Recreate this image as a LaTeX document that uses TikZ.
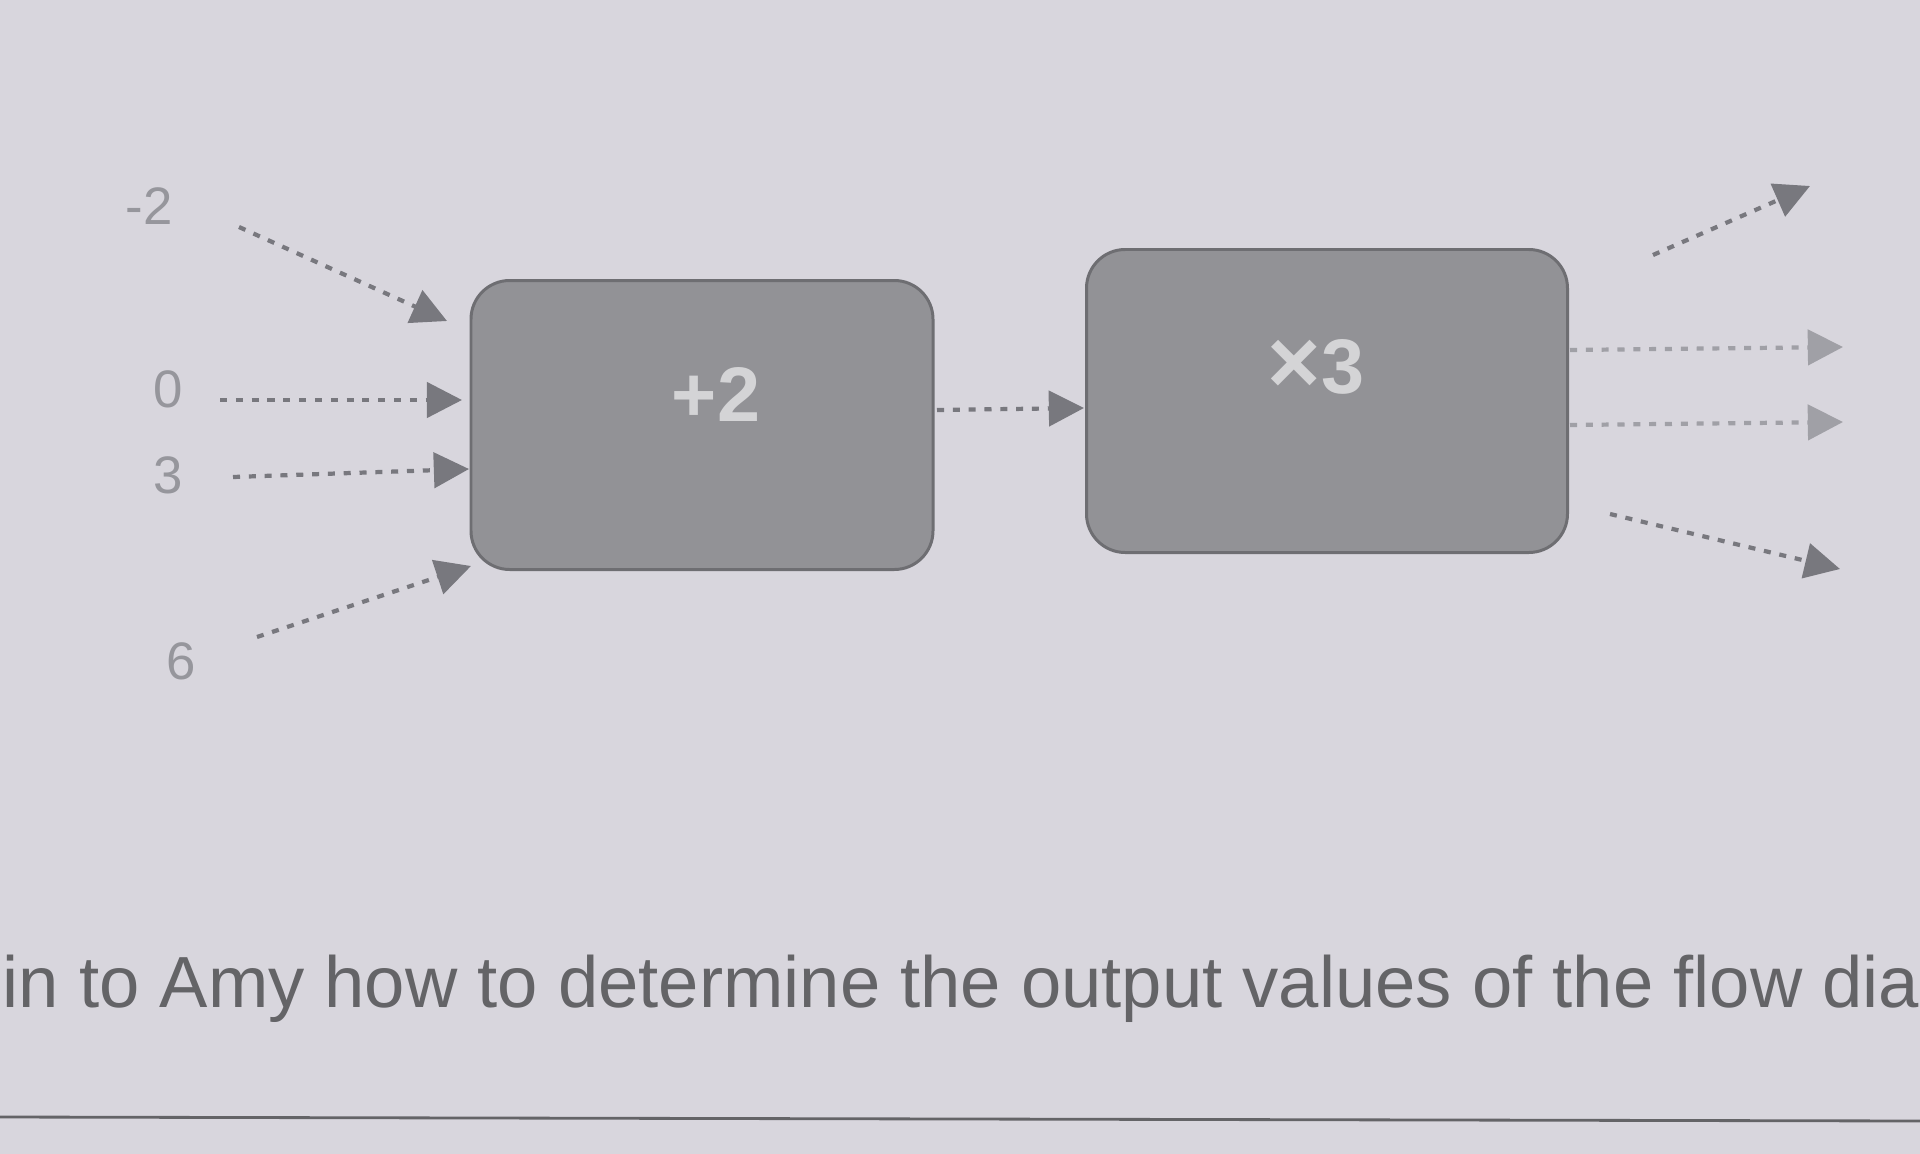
\documentclass[tikz,border=0pt]{standalone}
\usepackage{fontspec}
\setmainfont{Liberation Sans}
\usetikzlibrary{arrows.meta}
\definecolor{paper}{RGB}{216,214,221}
\definecolor{boxfill}{RGB}{146,146,150}
\definecolor{boxline}{RGB}{110,110,114}
\definecolor{boxtext}{RGB}{212,212,214}
\definecolor{labelgray}{RGB}{150,150,156}
\definecolor{arrowgray}{RGB}{120,120,126}
\definecolor{faintgray}{RGB}{160,160,166}
\definecolor{inkgray}{RGB}{100,100,103}
\tikzset{
  opbox/.style={draw=boxline, line width=0.85pt, fill=boxfill, rounded corners=11pt},
  optext/.style={text=boxtext, font=\fontsize{22}{26}\selectfont\bfseries},
  inlabel/.style={text=labelgray, font=\fontsize{15}{18}\selectfont, inner sep=0pt},
  flow/.style={draw=arrowgray, line width=1.2pt, dash pattern=on 2pt off 2.5pt,
    -{Triangle[length=10pt, width=10pt]}},
  faintflow/.style={flow, draw=faintgray}
}
\begin{document}
\begin{tikzpicture}[x=0.01cm, y=-0.01cm]
\fill[paper] (0,0) rectangle (1920,1154);
\useasboundingbox (0,0) rectangle (1920,1154);

% operation boxes
\node[opbox, minimum width=462*0.01cm, minimum height=289*0.01cm] (add) at (702,425) {};
\node[optext] (addt) at (716,394) {+2};
\node[opbox, minimum width=481*0.01cm, minimum height=303*0.01cm] (mul) at (1327,401) {};
\node[optext] (mult) at (1316,367) {\fontsize{26}{26}\selectfont×\fontsize{22}{26}\selectfont3};

% input labels
\node[inlabel] (im2) at (149,206) {-2};
\node[inlabel] (i0) at (168,389) {0};
\node[inlabel] (i3) at (168,475) {3};
\node[inlabel] (i6) at (181,661) {6};

% connector end points
\coordinate (s1) at (239,227);
\coordinate (t1) at (447,321);
\coordinate (s2) at (220,400);
\coordinate (t2) at (462,400);
\coordinate (s3) at (233,477);
\coordinate (t3) at (469,469);
\coordinate (s4) at (257,637);
\coordinate (t4) at (471,566);
\coordinate (m1) at (937,410);
\coordinate (m2) at (1084,408);
\coordinate (o1s) at (1653,255);
\coordinate (o1t) at (1810,186);
\coordinate (o2s) at (1570,350);
\coordinate (o2t) at (1843,347);
\coordinate (o3s) at (1570,425);
\coordinate (o3t) at (1843,422);
\coordinate (o4s) at (1610,514);
\coordinate (o4t) at (1840,569);

% input arrows
\draw[flow] (s1) -- (t1);
\draw[flow] (s2) -- (t2);
\draw[flow] (s3) -- (t3);
\draw[flow] (s4) -- (t4);
% between boxes
\draw[flow] (m1) -- (m2);
% outputs
\draw[flow] (o1s) -- (o1t);
\draw[faintflow] (o2s) -- (o2t);
\draw[faintflow] (o3s) -- (o3t);
\draw[flow] (o4s) -- (o4t);

% question text
\node[anchor=base west, inner sep=0pt, text=inkgray, font=\fontsize{20.6}{24}\selectfont] (q) at (2,1007) {in to Amy how to determine the output values of the flow dia};

% answer line
\coordinate (l1) at (0,1117);
\coordinate (l2) at (1920,1121);
\draw[draw=inkgray, line width=0.8pt] (l1) -- (l2);
\end{tikzpicture}
\end{document}
